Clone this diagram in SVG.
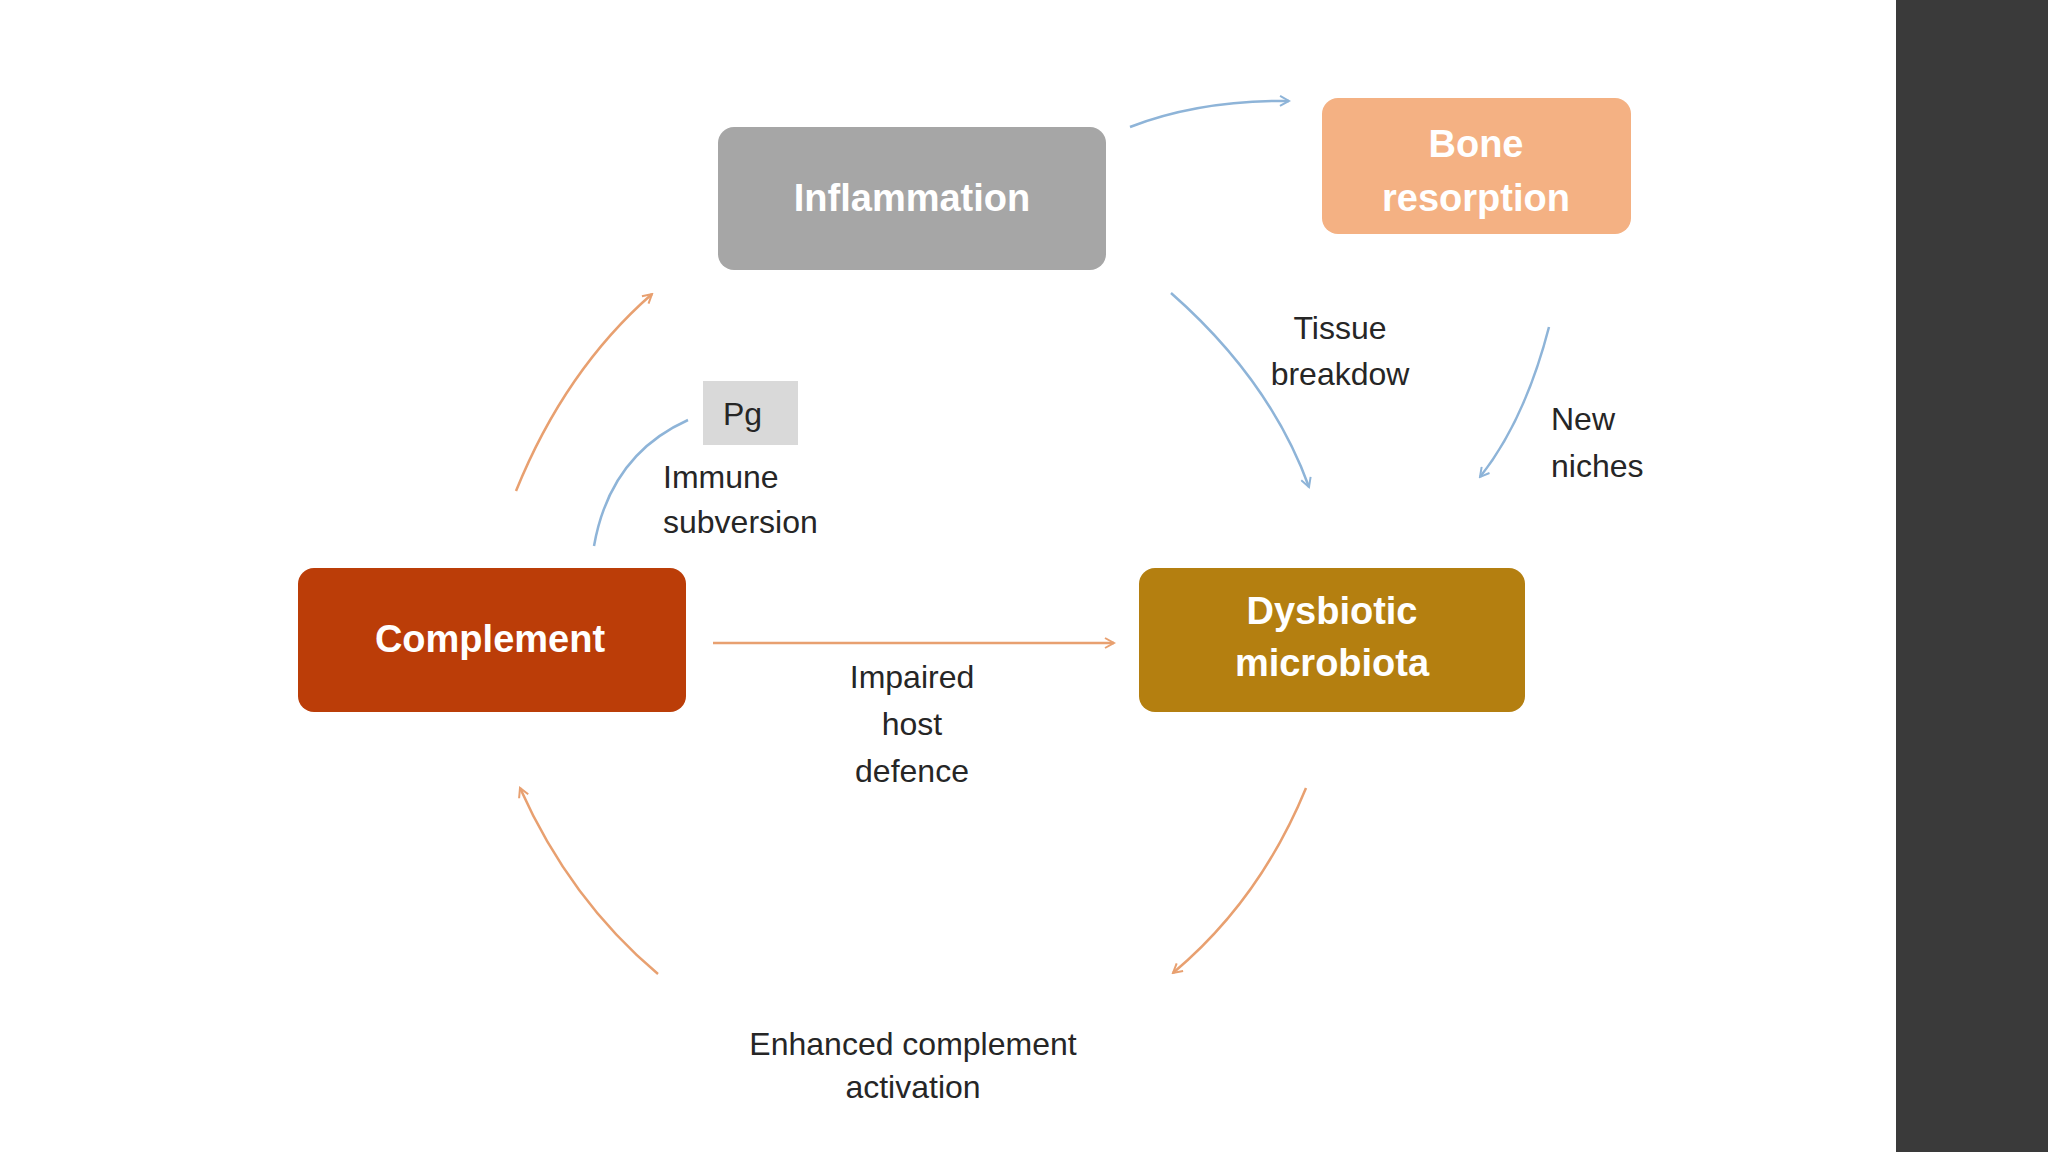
<svg xmlns="http://www.w3.org/2000/svg" width="2048" height="1152" viewBox="0 0 2048 1152">
<style>
.bt{font-family:"Liberation Sans",Arial,sans-serif;font-weight:bold;font-size:38px;fill:#fff;text-anchor:middle}
.lb{font-family:"Liberation Sans",Arial,sans-serif;font-size:32px;fill:#262626}
.m{text-anchor:middle}
.ob{fill:none;stroke:#e8a070;stroke-width:2.5}
.bl{fill:none;stroke:#8eb4d8;stroke-width:2.5}
</style>
<defs>
<marker id="ao" markerWidth="12" markerHeight="12" refX="10" refY="6" orient="auto" markerUnits="userSpaceOnUse"><path d="M1,1 L10,6 L1,11" fill="none" stroke="#e8a070" stroke-width="2"/></marker>
<marker id="ab" markerWidth="12" markerHeight="12" refX="10" refY="6" orient="auto" markerUnits="userSpaceOnUse"><path d="M1,1 L10,6 L1,11" fill="none" stroke="#8eb4d8" stroke-width="2"/></marker>
<clipPath id="bc"><rect x="1322" y="98" width="309" height="136" rx="16"/></clipPath>
</defs>
<rect width="2048" height="1152" fill="#fff"/>
<rect x="1896" y="0" width="152" height="1152" fill="#3a3a3a"/>
<g id="connectors">
<path class="bl" d="M1130,127 Q1200,100 1289,101" marker-end="url(#ab)"/>
<path class="bl" d="M1171,293 Q1270,380 1309,487" marker-end="url(#ab)"/>
<path class="bl" d="M1549,327 Q1525,420 1480,477" marker-end="url(#ab)"/>
<path class="ob" d="M516,491 Q565,370 652,294" marker-end="url(#ao)"/>
<path class="bl" d="M594,546 Q610,455 688,420"/>
<path class="ob" d="M713,643 L1114,643" marker-end="url(#ao)"/>
<path class="ob" d="M1306,788 Q1260,900 1173,973" marker-end="url(#ao)"/>
<path class="ob" d="M658,974 Q570,900 520,788" marker-end="url(#ao)"/>
</g>
<g id="inflammation"><rect x="718" y="127" width="388" height="143" rx="16" fill="#a6a6a6"/><text class="bt" x="912" y="211">Inflammation</text></g>
<g id="bone"><rect x="1322" y="98" width="309" height="136" rx="16" fill="#f4b183"/><g clip-path="url(#bc)"><text class="bt" x="1476" y="157">Bone</text><text class="bt" x="1476" y="211">resorption</text></g></g>
<g id="complement"><rect x="298" y="568" width="388" height="144" rx="16" fill="#bb3d08"/><text class="bt" x="490" y="652">Complement</text></g>
<g id="dysbiotic"><rect x="1139" y="568" width="386" height="144" rx="16" fill="#b47f10"/><text class="bt" x="1332" y="624">Dysbiotic</text><text class="bt" x="1332" y="676">microbiota</text></g>
<g id="pg"><rect x="703" y="381" width="95" height="64" fill="#d9d9d9"/><text class="lb" x="723" y="425">Pg</text></g>
<g id="labels">
<text class="lb m" x="1340" y="339">Tissue</text><text class="lb m" x="1340" y="385">breakdow</text>
<text class="lb" x="1551" y="430">New</text><text class="lb" x="1551" y="477">niches</text>
<text class="lb" x="663" y="488">Immune</text><text class="lb" x="663" y="533">subversion</text>
<text class="lb m" x="912" y="688">Impaired</text><text class="lb m" x="912" y="735">host</text><text class="lb m" x="912" y="782">defence</text>
<text class="lb m" x="913" y="1055">Enhanced complement</text><text class="lb m" x="913" y="1098">activation</text>
</g>
</svg>
